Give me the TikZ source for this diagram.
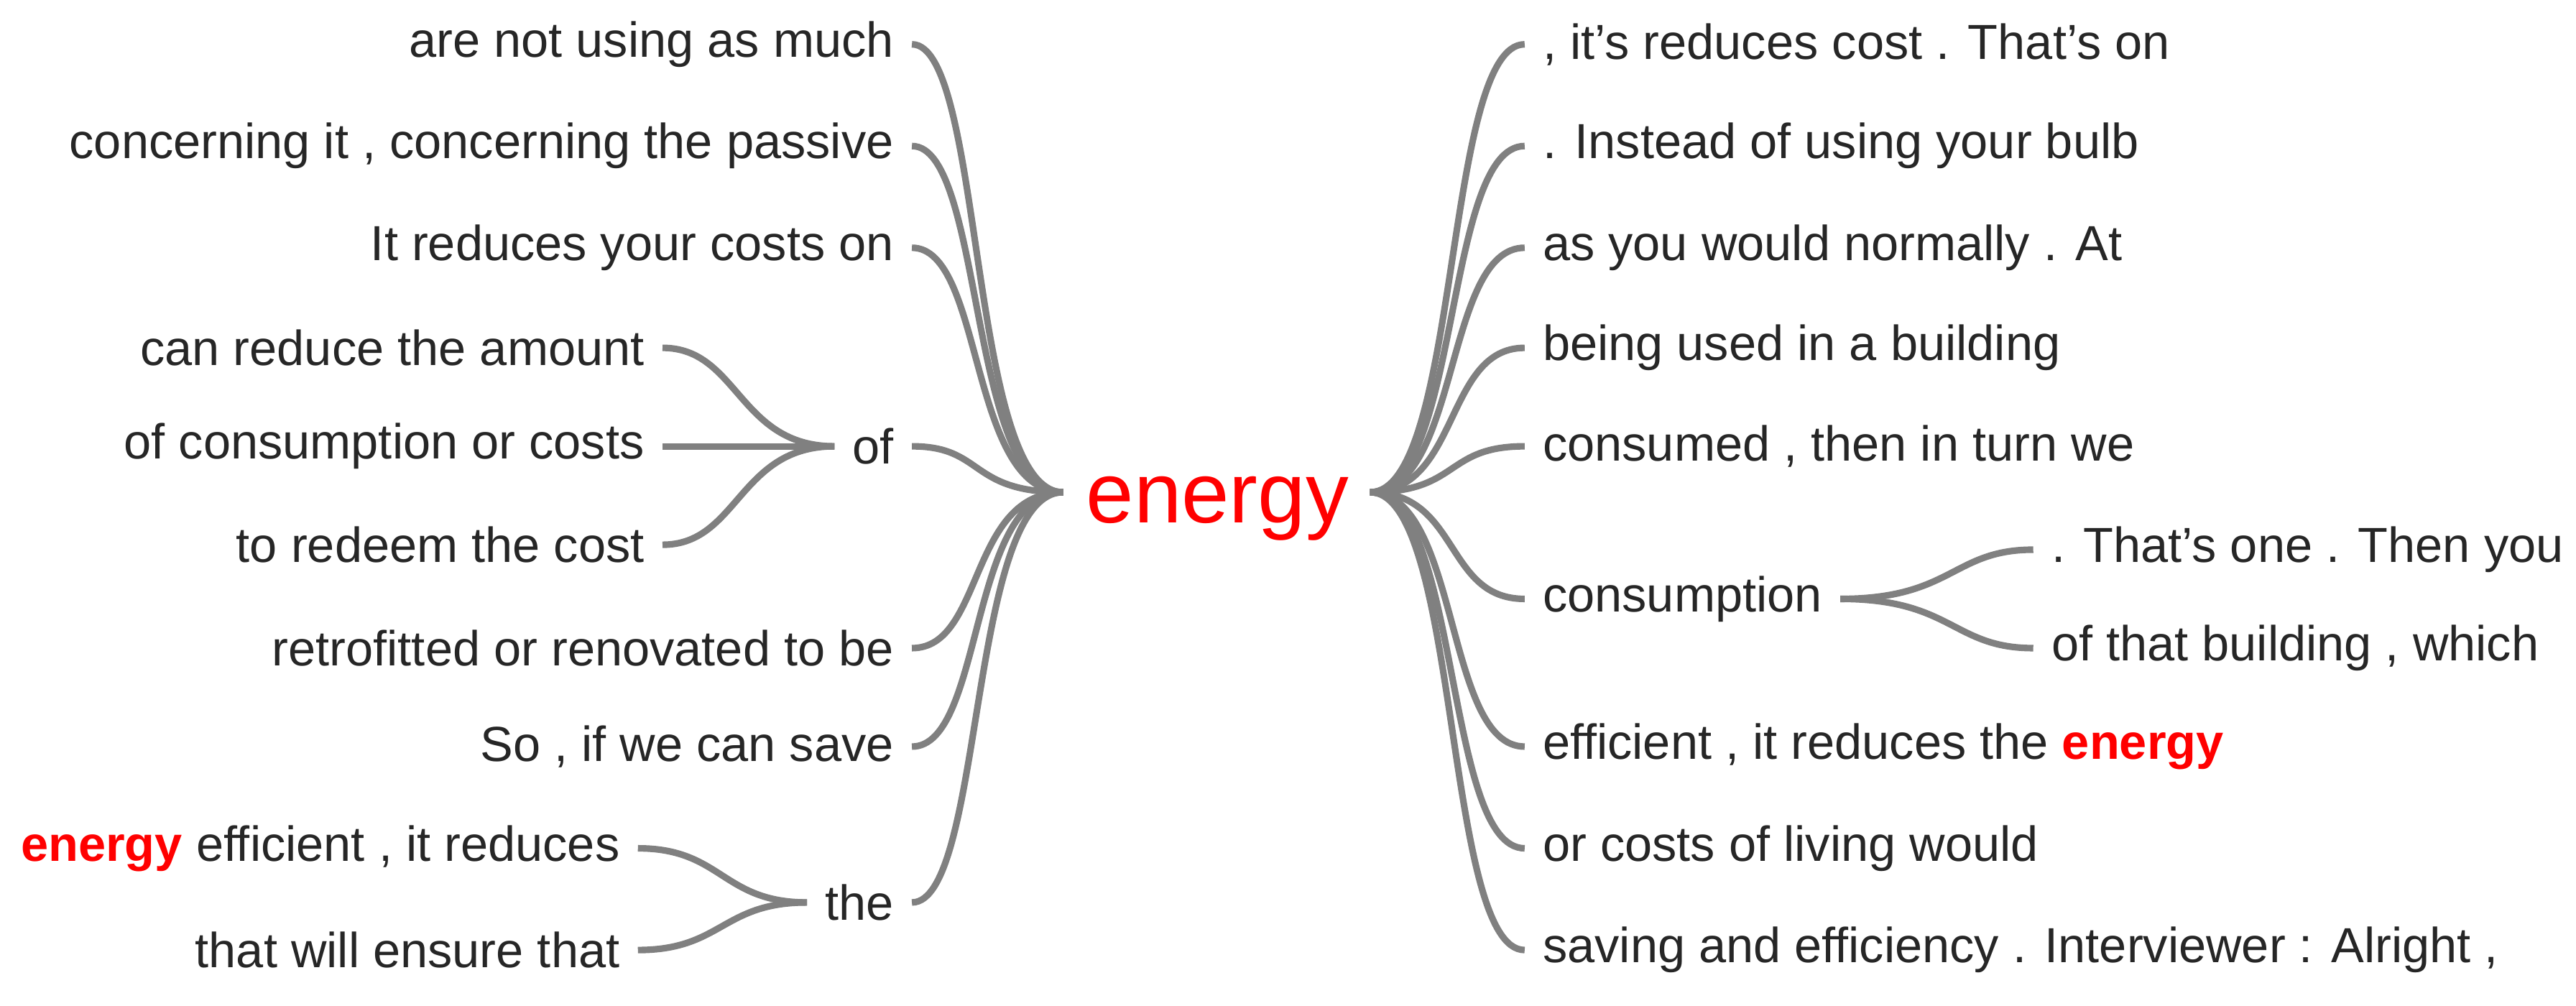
\documentclass[tikz,border=0pt]{standalone}
\usepackage{fontspec}
\setmainfont{Liberation Sans}
\begin{document}
\begin{tikzpicture}[x=0.02283cm,y=-0.02283cm,
  lf/.style={anchor=east,inner sep=0,font=\fontsize{19.5}{22}\selectfont,text=black!85},
  rt/.style={anchor=west,inner sep=0,font=\fontsize{19.5}{22}\selectfont,text=black!85},
  br/.style={draw=black!50,line width=2.6pt}]
\useasboundingbox (0,0) rectangle (1570,613);
\node[font=\fontsize{34}{38}\selectfont,text=red,inner sep=0] (c) at (742,310) {energy};
\coordinate (cl) at (648,300); \coordinate (cr) at (835,300);
% left
\node[lf] (l1) at (545,27) {are not using as much};
\node[lf] (l2) at (545,89) {concerning it , concerning the passive};
\node[lf] (l3) at (545,151) {It reduces your costs on};
\node[lf] (lof) at (545,272) {of};
\node[lf] (lof1) at (393,212) {can reduce the amount};
\node[lf] (lof2) at (393,272) {of consumption or costs};
\node[lf] (lof3) at (393,332) {to redeem the cost};
\node[lf] (l5) at (545,395) {retrofitted or renovated to be};
\node[lf] (l6) at (545,455) {So , if we can save};
\node[lf] (lthe) at (545,550) {the};
\node[lf] (lt1) at (378,517) {{\color{red}\bfseries energy} efficient , it reduces};
\node[lf] (lt2) at (378,579) {that will ensure that};
\foreach \n in {l1,l2,l3,lof,l5,l6,lthe}
  \draw[br] (cl) .. controls (590,300) and (600,0|-\n.east) .. ([xshift=7pt]\n.east);
\foreach \n in {lof1,lof2,lof3}
  \draw[br] ([xshift=-7pt]lof.west) .. controls (450,272) and (450,0|-\n.east) .. ([xshift=7pt]\n.east);
\foreach \n in {lt1,lt2}
  \draw[br] ([xshift=-7pt]lthe.west) .. controls (440,550) and (440,0|-\n.east) .. ([xshift=7pt]\n.east);
% right
\node[rt] (r1) at (940,27) {, it's reduces cost . That's on};
\node[rt] (r2) at (940,89) {. Instead of using your bulb};
\node[rt] (r3) at (940,151) {as you would normally . At};
\node[rt] (r4) at (940,212) {being used in a building};
\node[rt] (r5) at (940,272) {consumed , then in turn we};
\node[rt] (rc) at (940,365) {consumption};
\node[rt] (rc1) at (1250,335) {. That's one . Then you};
\node[rt] (rc2) at (1250,395) {of that building , which};
\node[rt] (r7) at (940,455) {efficient , it reduces the {\color{red}\bfseries energy}};
\node[rt] (r8) at (940,517) {or costs of living would};
\node[rt] (r9) at (940,579) {saving and efficiency . Interviewer : Alright ,};
\foreach \n in {r1,r2,r3,r4,r5,rc,r7,r8,r9}
  \draw[br] (cr) .. controls (890,300) and (880,0|-\n.west) .. ([xshift=-7pt]\n.west);
\foreach \n in {rc1,rc2}
  \draw[br] ([xshift=7pt]rc.east) .. controls (1190,365) and (1190,0|-\n.west) .. ([xshift=-7pt]\n.west);
\end{tikzpicture}
\end{document}
